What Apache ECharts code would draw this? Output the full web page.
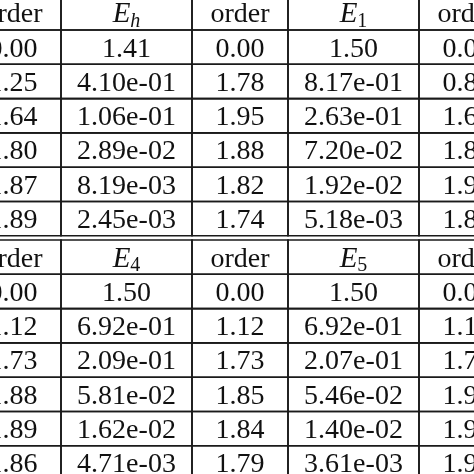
<!DOCTYPE html>
<html><head><meta charset="utf-8">
<script src="https://cdn.jsdelivr.net/npm/echarts@6/dist/echarts.min.js"></script>
<style>html,body{margin:0;padding:0;background:#fff}#c{width:474px;height:474px}</style>
</head><body><div id="c"></div>
<script>
// Headers (E symbol subscripts), per block
const headers1 = ['order', 'h', 'order', '1', 'order'];
const headers2 = ['order', '4', 'order', '5', 'order'];
// Block 1 columns
const orderLeft1 = ['0.00','1.25','1.64','1.80','1.87','1.89'];
const errH = ['1.41','4.10e-01','1.06e-01','2.89e-02','8.19e-03','2.45e-03'];
const orderH = ['0.00','1.78','1.95','1.88','1.82','1.74'];
const err1 = ['1.50','8.17e-01','2.63e-01','7.20e-02','1.92e-02','5.18e-03'];
const order1 = ['0.00','0.89','1.63','1.87','1.91','1.89'];
// Block 2 columns
const orderLeft2 = ['0.00','1.12','1.73','1.88','1.89','1.86'];
const err4 = ['1.50','6.92e-01','2.09e-01','5.81e-02','1.62e-02','4.71e-03'];
const order4 = ['0.00','1.12','1.73','1.85','1.84','1.79'];
const err5 = ['1.50','6.92e-01','2.07e-01','5.46e-02','1.40e-02','3.61e-03'];
const order5 = ['0.00','1.12','1.79','1.91','1.93','1.95'];

const block1 = [orderLeft1, errH, orderH, err1, order1];
const block2 = [orderLeft2, err4, order4, err5, order5];

// layout
const colEdges = [-35, 61, 192, 288, 419, 515];
const rowH = 34.3;
const blockTop = [30 - rowH, 240];

const items = [];
[[headers1, block1], [headers2, block2]].forEach(([hd, cols], b) => {
  hd.forEach((h, c) => items.push([c, 0, b, h, 1]));
  cols.forEach((col, c) => col.forEach((v, r) => items.push([c, r + 1, b, v, 0])));
});

const chart = echarts.init(document.getElementById('c'));
chart.setOption({
  animation: false,
  grid: {left: 0, right: 0, top: 0, bottom: 0},
  xAxis: {type: 'value', min: 0, max: 474, show: false},
  yAxis: {type: 'value', min: 0, max: 474, inverse: true, show: false},
  series: [{
    type: 'custom',
    clip: true,
    data: items,
    renderItem: function (params, api) {
      const c = api.value(0), r = api.value(1), b = api.value(2);
      const it = items[params.dataIndex];
      const text = it[3], isHead = it[4];
      const y0 = blockTop[b] + r * rowH;
      const p0 = api.coord([colEdges[c], y0]);
      const p1 = api.coord([colEdges[c + 1], y0 + rowH]);
      let label;
      if (isHead && text !== 'order') {
        label = {
          text: '{e|E}{s|' + text + '}',
          rich: {
            e: {fontFamily: 'Liberation Serif', fontStyle: 'italic', fontSize: 29, fill: '#111'},
            s: {fontFamily: 'Liberation Serif', fontStyle: text === 'h' ? 'italic' : 'normal', fontSize: 20, fill: '#111', padding: [14, 0, 0, 0]}
          }
        };
      } else {
        label = {text: text, fontFamily: 'Liberation Serif', fontSize: 28, fill: '#111'};
      }
      return {
        type: 'group',
        children: [
          {type: 'rect', shape: {x: p0[0], y: p0[1], width: p1[0] - p0[0], height: p1[1] - p0[1]},
           style: {fill: 'none', stroke: '#1a1a1a', lineWidth: 1.6}},
          {type: 'text', x: (p0[0] + p1[0]) / 2, y: (p0[1] + p1[1]) / 2 + 2,
           style: Object.assign({align: 'center', verticalAlign: 'middle'}, label)}
        ]
      };
    }
  }]
});
</script></body></html>
